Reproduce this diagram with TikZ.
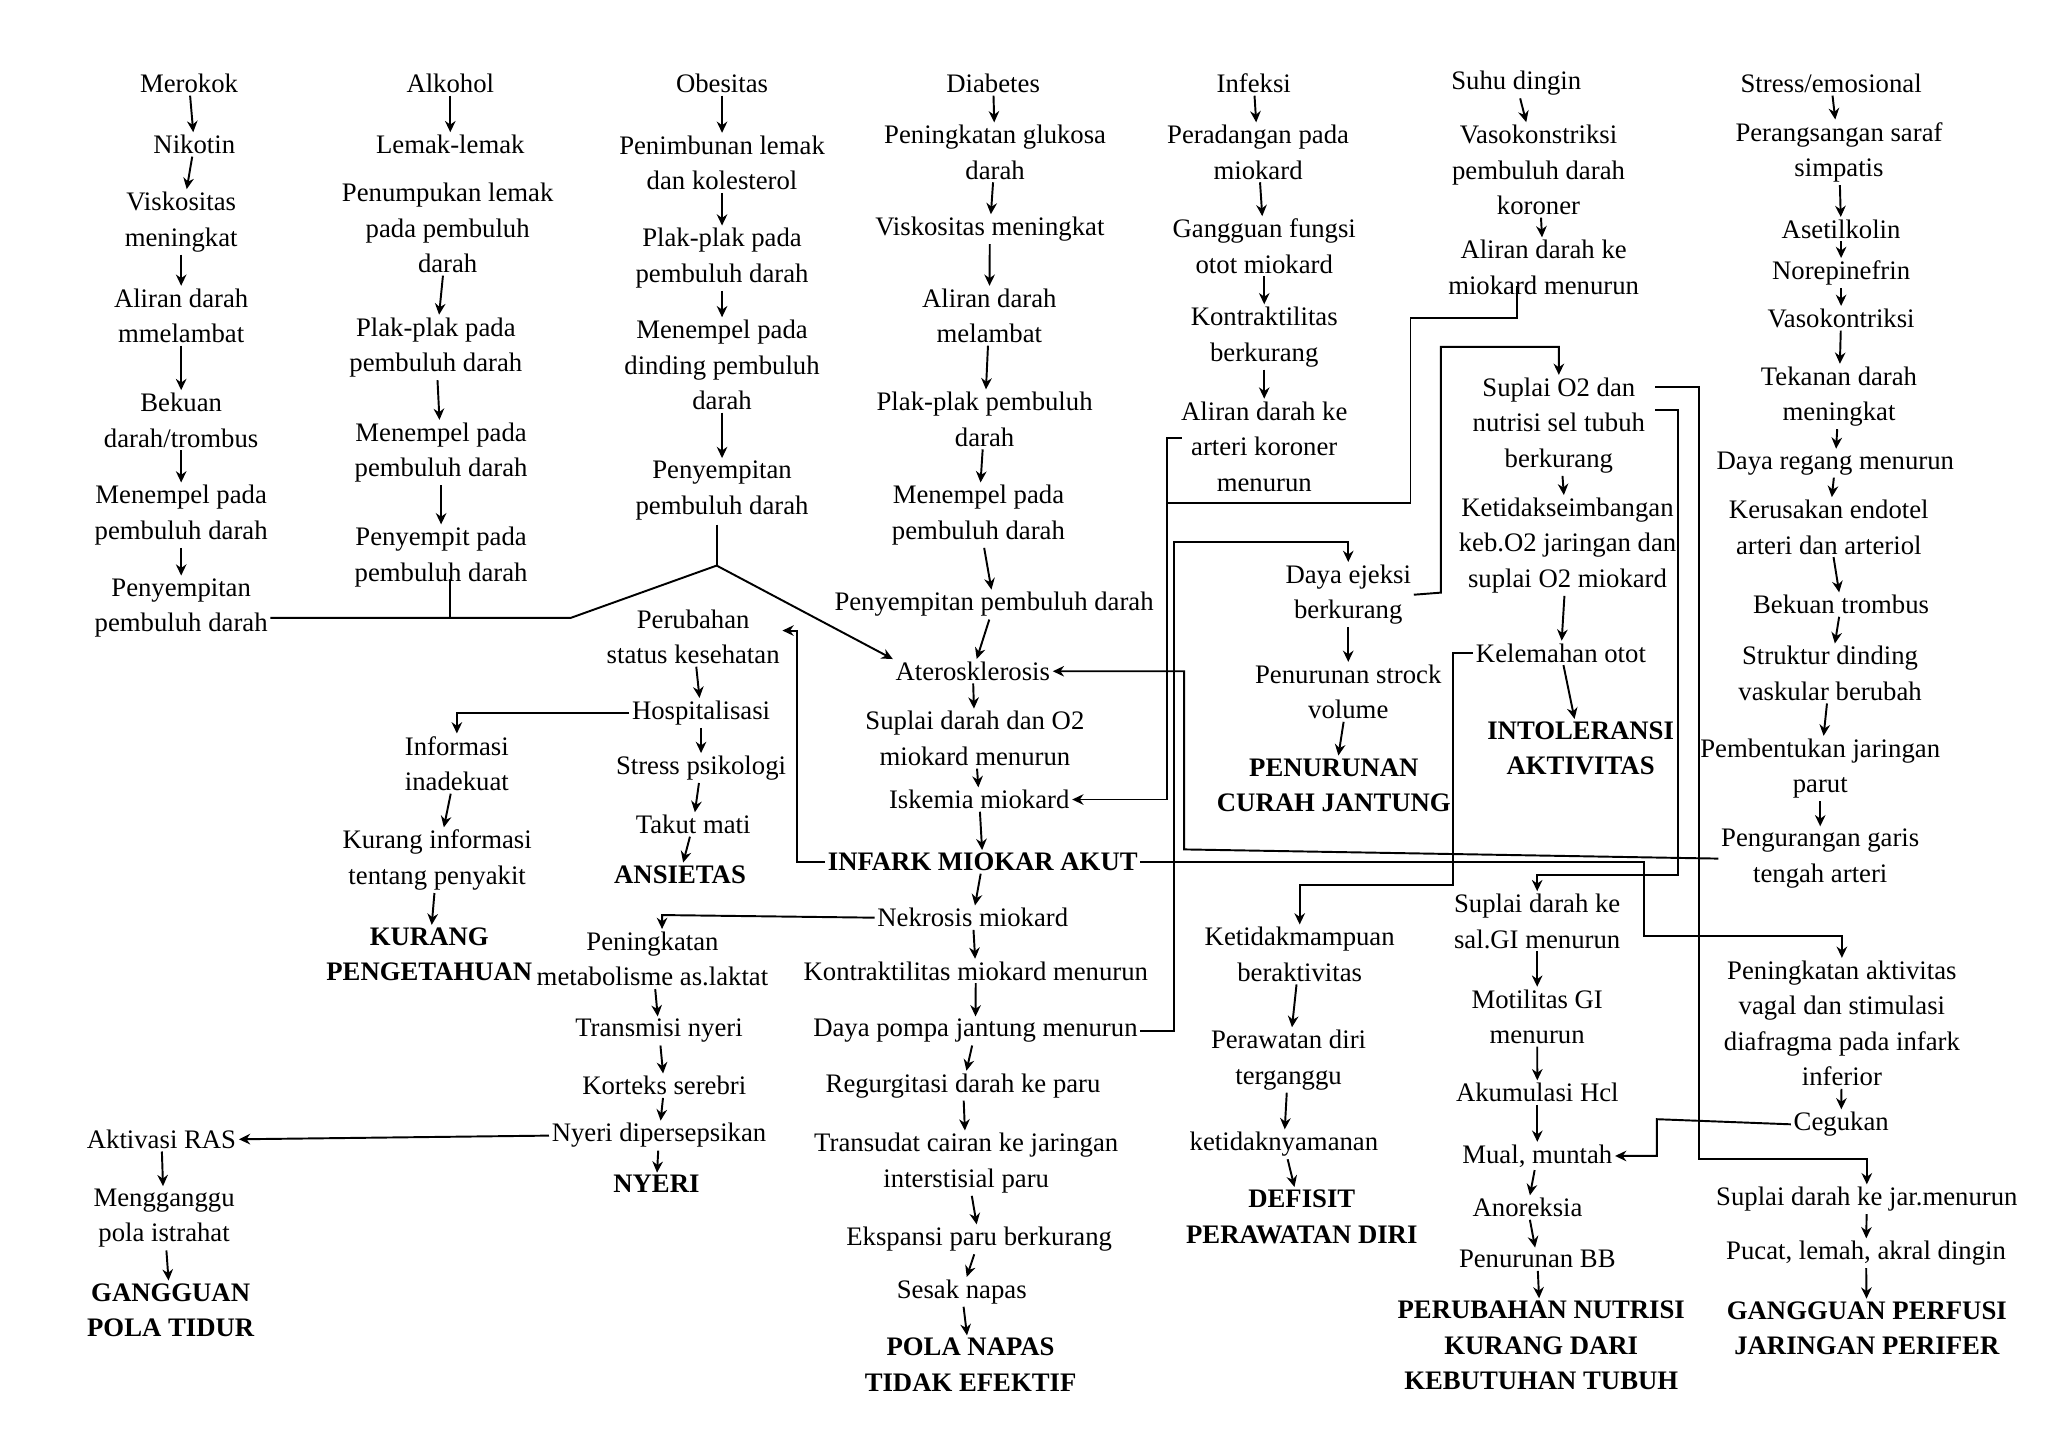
\documentclass[tikz,border=0pt]{standalone}
\usepackage{fontspec}
\setmainfont{Liberation Serif}
\usetikzlibrary{arrows.meta}
\begin{document}
\begin{tikzpicture}[x=0.013128cm,y=-0.013128cm,
  n/.style={align=center,inner sep=0.6pt,font=\fontsize{7.6}{10.1}\selectfont},
  b/.style={n,font=\fontsize{7.6}{10.1}\selectfont\bfseries},
  arr/.style={-{Stealth[length=3.2pt,width=3pt]},line width=0.55pt},
  ln/.style={line width=0.55pt}]
\useasboundingbox (0,0) rectangle (1560,1103);
% column 1
\node[n] (m1) at (144,63.5) {Merokok};
\node[n] (m2) at (148,110) {Nikotin};
\node[n] (m3) at (138,169) {Viskositas\\meningkat};
\node[n] (m4) at (138,240.5) {Aliran darah\\mmelambat};
\node[n] (m5) at (138,320) {Bekuan\\darah/trombus};
\node[n] (m6) at (138,392.4) {Menempel pada\\pembuluh darah};
\node[n] (m7) at (138,463) {Penyempitan\\pembuluh darah};
% column 2
\node[n] (a1) at (343,63.5) {Alkohol};
\node[n] (a2) at (343,110) {Lemak-lemak};
\node[n] (a3) at (341,173.6) {Penumpukan lemak\\pada pembuluh\\darah};
\node[n] (a4) at (332,264.6) {Plak-plak pada\\pembuluh darah};
\node[n] (a5) at (336,344.7) {Menempel pada\\pembuluh darah};
\node[n] (a6) at (336,424.3) {Penyempit pada\\pembuluh darah};
% column 3
\node[n] (o1) at (550,63.5) {Obesitas};
\node[n] (o2) at (550,124) {Penimbunan lemak\\dan kolesterol};
\node[n] (o3) at (550,196.7) {Plak-plak pada\\pembuluh darah};
\node[n] (o4) at (550,278) {Menempel pada\\dinding pembuluh\\darah};
\node[n] (o5) at (550,373.5) {Penyempitan\\pembuluh darah};
% column 4
\node[n] (d1) at (756.5,63.5) {Diabetes};
\node[n] (d2) at (758,116) {Peningkatan glukosa\\darah};
\node[n] (d3) at (754,174.6) {Viskositas meningkat};
\node[n] (d4) at (753.6,240.5) {Aliran darah\\melambat};
\node[n] (d5) at (750,319.4) {Plak-plak pembuluh\\darah};
\node[n] (d6) at (745.3,392.4) {Menempel pada\\pembuluh darah};
\node[n] (d7) at (757.2,460.5) {Penyempitan pembuluh darah};
\node[n] (ater) at (741,511.3) {Aterosklerosis};
\node[n] (d9) at (742.6,562.6) {Suplai darah dan O2\\miokard menurun};
\node[n] (isk) at (745.9,609) {Iskemia miokard};
\node[b] (inf) at (748.6,656.5) {INFARK MIOKAR AKUT};
\node[n] (nek) at (741,699) {Nekrosis miokard};
\node[n] (kon) at (743.3,739.6) {Kontraktilitas miokard menurun};
\node[n] (pompa) at (743,785.3) {Daya pompa jantung menurun};
\node[n] (reg) at (733.6,827) {Regurgitasi darah ke paru};
\node[n] (tra) at (736,886) {Transudat cairan ke jaringan\\interstisial paru};
\node[n] (eks) at (745.9,944) {Ekspansi paru berkurang};
\node[n] (ses) at (732.6,984) {Sesak napas};
\node[b] (pola) at (739.3,1039.6) {POLA NAPAS\\TIDAK EFEKTIF};
% column 5
\node[n] (k1) at (955,63.5) {Infeksi};
\node[n] (k2) at (958.3,116) {Peradangan pada\\miokard};
\node[n] (k3) at (963,187.6) {Gangguan fungsi\\otot miokard};
\node[n] (k4) at (963,256.7) {Kontraktilitas\\berkurang};
\node[n] (k5) at (963,340) {Aliran darah ke\\arteri koroner\\menurun};
\node[n] (ej) at (1027,453) {Daya ejeksi\\berkurang};
\node[n] (sv) at (1027,527) {Penurunan strock\\volume};
\node[b] (cj) at (1016,598) {PENURUNAN\\CURAH JANTUNG};
\node[n] (ketm) at (990,727) {Ketidakmampuan\\beraktivitas};
\node[n] (pd) at (981.5,807.4) {Perawatan diri\\terganggu};
\node[n] (kn) at (978,871.6) {ketidaknyamanan};
\node[b] (def) at (991.6,926.7) {DEFISIT\\PERAWATAN DIRI};
% column 6
\node[n] (s1) at (1155,63.5) {Suhu dingin};
\node[n] (s2) at (1171.9,129.4) {Vasokonstriksi\\pembuluh darah\\koroner};
\node[n] (s3) at (1175.8,203.6) {Aliran darah ke\\miokard menurun};
\node[n] (sup) at (1187.4,324) {Suplai O2 dan\\nutrisi sel tubuh\\berkurang};
\node[n] (kts) at (1194,415.5) {Ketidakseimbangan\\keb.O2 jaringan dan\\suplai O2 miokard};
\node[n] (kel) at (1189,497.3) {Kelemahan otot};
\node[b] (into) at (1204,570.2) {INTOLERANSI\\AKTIVITAS};
\node[n] (gi) at (1170.9,701.7) {Suplai darah ke\\sal.GI menurun};
\node[n] (mot) at (1170.9,774.4) {Motilitas GI\\menurun};
\node[n] (aku) at (1171,832.2) {Akumulasi Hcl};
\node[n] (mual) at (1171,880.5) {Mual, muntah};
\node[n] (ano) at (1163.6,919.8) {Anoreksia};
\node[n] (bb) at (1171,959.2) {Penurunan BB};
\node[b] (nut) at (1174,1025) {PERUBAHAN NUTRISI\\KURANG DARI\\KEBUTUHAN TUBUH};
% column 7
\node[n] (e1) at (1394.8,63.5) {Stress/emosional};
\node[n] (e2) at (1400.8,116) {Perangsangan saraf\\simpatis};
\node[n] (e3) at (1402.4,174.6) {Asetilkolin};
\node[n] (e4) at (1402.4,208) {Norepinefrin};
\node[n] (e5) at (1402.4,242.4) {Vasokontriksi};
\node[n] (e6) at (1400.8,302) {Tekanan darah\\meningkat};
\node[n] (e7) at (1398,352.8) {Daya regang menurun};
\node[n] (e8) at (1393,401.5) {Kerusakan endotel\\arteri dan arteriol};
\node[n] (e9) at (1402.4,460.5) {Bekuan trombus};
\node[n] (e10) at (1394,513) {Struktur dinding\\vaskular berubah};
\node[n] (e11) at (1386.5,585.4) {Pembentukan jaringan\\parut};
\node[n] (peng) at (1386.5,654) {Pengurangan garis\\tengah arteri};
\node[n] (vag) at (1403,779.5) {Peningkatan aktivitas\\vagal dan stimulasi\\diafragma pada infark\\inferior};
\node[n] (ceg) at (1402.5,856.4) {Cegukan};
\node[n] (jar) at (1422,913.5) {Suplai darah ke jar.menurun};
\node[n] (puc) at (1421.4,954.6) {Pucat, lemah, akral dingin};
\node[b] (perf) at (1422,1011.7) {GANGGUAN PERFUSI\\JARINGAN PERIFER};
% left middle
\node[n] (perub) at (528,485) {Perubahan\\status kesehatan};
\node[n] (hosp) at (534,543) {Hospitalisasi};
\node[n] (stp) at (534,585) {Stress psikologi};
\node[n] (tak) at (528,628) {Takut mati};
\node[b] (ans) at (518,666) {ANSIETAS};
\node[n] (info) at (348,581.6) {Informasi\\inadekuat};
\node[n] (kur) at (333,655.2) {Kurang informasi\\tentang penyakit};
\node[b] (kp) at (327,727) {KURANG\\PENGETAHUAN};
\node[n] (met) at (497,730.5) {Peningkatan\\metabolisme as.laktat};
\node[n] (tr) at (502,785.3) {Transmisi nyeri};
\node[n] (kor) at (506,827) {Korteks serebri};
\node[n] (ny) at (502,865) {Nyeri dipersepsikan};
\node[b] (nyeri) at (500,902) {NYERI};
\node[n] (ras) at (123,867.8) {Aktivasi RAS};
\node[n] (mg) at (125,928) {Mengganggu\\pola istrahat};
\node[b] (gpt) at (130,997.9) {GANGGUAN\\POLA TIDUR};
% chain arrows
\foreach \a/\b in {m1/m2,m2/m3,m3/m4,m4/m5,m5/m6,m6/m7,a1/a2,a3/a4,a4/a5,a5/a6,
  o1/o2,o2/o3,o3/o4,o4/o5,d1/d2,d2/d3,d3/d4,d4/d5,d5/d6,d6/d7,d7/ater,ater/d9,d9/isk,isk/inf,
  inf/nek,nek/kon,kon/pompa,pompa/reg,reg/tra,tra/eks,eks/ses,ses/pola,
  k1/k2,k2/k3,k3/k4,k4/k5,ej/sv,sv/cj,ketm/pd,pd/kn,kn/def,
  s1/s2,s2/s3,sup/kts,kts/kel,kel/into,gi/mot,mot/aku,aku/mual,mual/ano,ano/bb,bb/nut,
  e1/e2,e2/e3,e3/e4,e4/e5,e5/e6,e6/e7,e7/e8,e8/e9,e9/e10,e10/e11,e11/peng,
  vag/ceg,jar/puc,puc/perf,perub/hosp,hosp/stp,stp/tak,tak/ans,info/kur,kur/kp,
  met/tr,tr/kor,kor/ny,ny/nyeri,ras/mg,mg/gpt}
  \draw[arr] (\a) -- (\b);
% converging lines to aterosklerosis
\coordinate (t1) at (434.6,470.7);
\coordinate (t2) at (545.9,430.8);
\draw[ln] (m7.east |- t1) -- (t1) -- (t2);
\draw[ln] (342.7,441) -- (342.7,470.7);
\draw[ln] (545.9,399.6) -- (t2);
\draw[arr] (t2) -- (ater.north west);
% elbows
\draw[arr] (inf.west) -- (607.2,656.5) -- (607.2,480.3) -- (perub.east |- 0,480.3);
\draw[arr] (hosp.west) -| (info.north);
\draw[arr] (nek.west) -- (504.3,697) -- (504.3,0 |- met.north);
\draw[arr] (ny.west) -- (ras.east);
\draw[arr] (900,333.5) -- (888.6,333.5) -- (888.6,609) -- (isk.east);
\draw[ln] (1155.8,218) -- (1155.8,242.4) -- (1074.4,242.4) -- (1074.4,383.3) -- (888.6,383.3);
\draw[arr] (pompa.east) -- (894.6,785.3) -- (894.6,412.8) -| (ej.north);
\draw[arr] (ej.east) -- (1097.6,451.4) -- (1097.6,264.2) -| (sup.north);
\draw[arr] (1261,294.7) -- (1294,294.7) -- (1294,883) -| (jar.north);
\draw[arr] (1261,312.4) -- (1277.8,312.4) -- (1277.8,666.3) -| (gi.north);
\draw[arr] (kel.west) -- (1107,497.3) -- (1107,674) -| (ketm.north);
\draw[arr] (inf.east) -- (1252.5,656.5) -- (1252.5,712.7) -| (vag.north);
\draw[arr] (peng.west) -- (901.9,647) -- (901.9,511.3) -- (ater.east);
\draw[arr] (ceg.west) -- (1262,852.5) -- (1262,880.5) -- (mual.east);
\end{tikzpicture}
\end{document}
